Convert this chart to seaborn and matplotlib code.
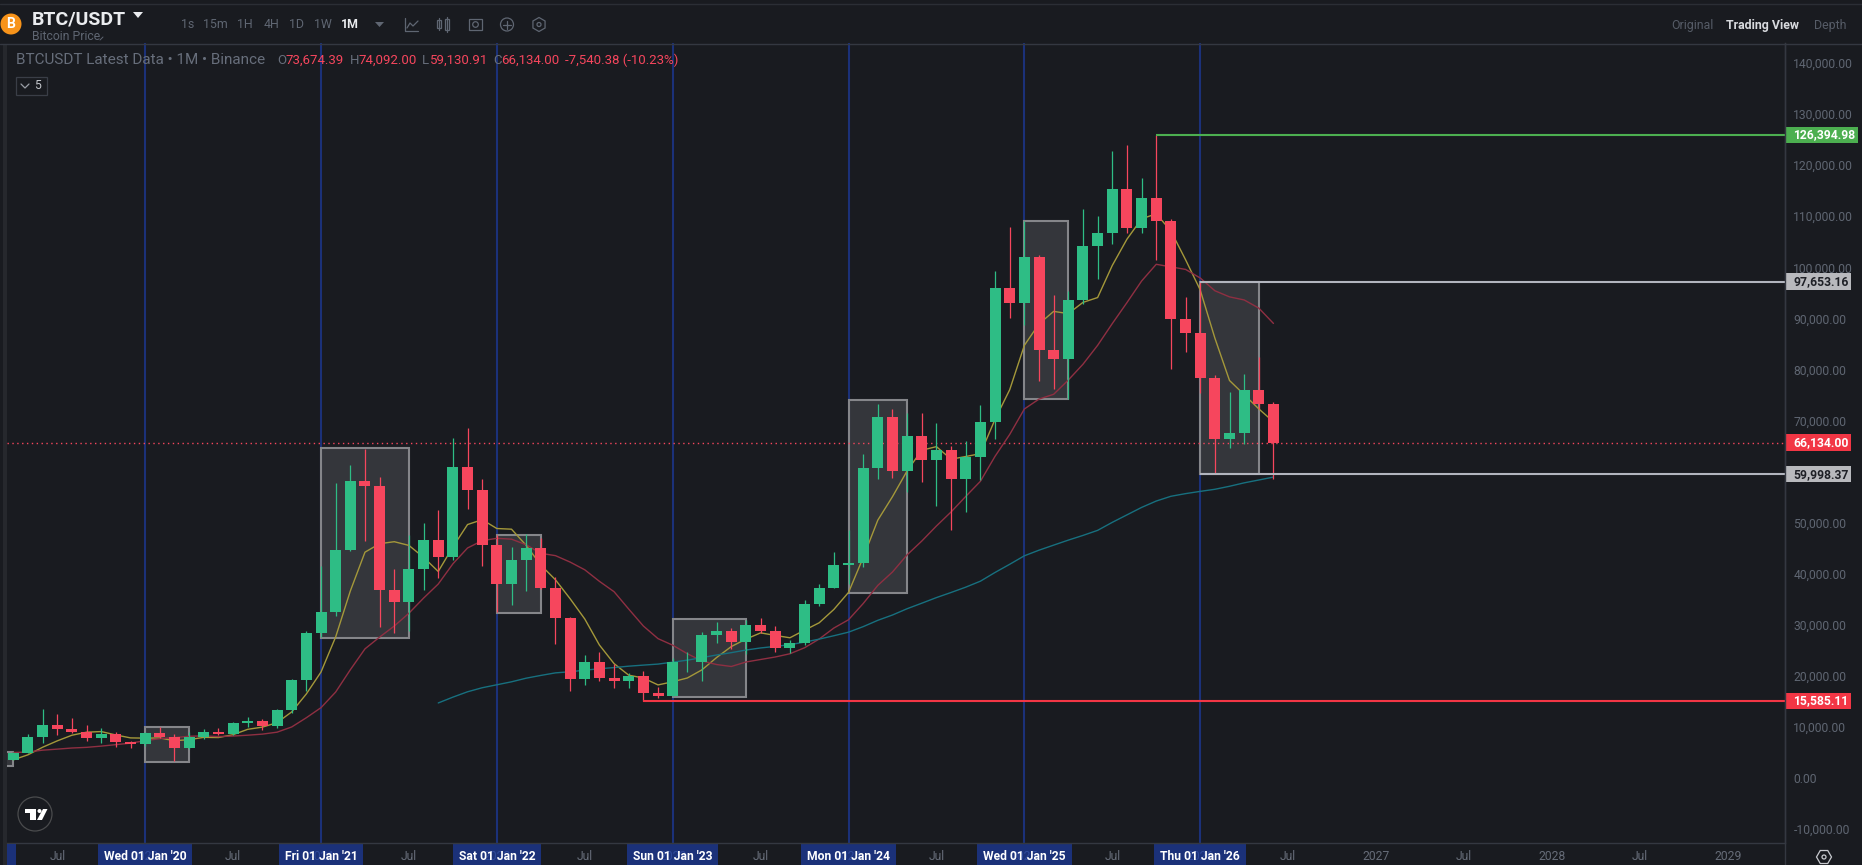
# BTC/USDT monthly chart, candles with three moving averages and the drawn boxes/levels
import matplotlib
matplotlib.use("Agg")
import matplotlib.pyplot as plt
from matplotlib.patches import Rectangle, Circle, RegularPolygon, Polygon
from matplotlib.transforms import IdentityTransform, ScaledTranslation
import pandas as pd
import seaborn as sns

BG = "#191b20"
GRID = "#343841"
TXT = "#5f6672"
UP = "#2ebd85"
DOWN = "#f6465d"
NAVY = "#1b3179"

# months from Apr 2019 (-9) to Jun 2026 (77), month 0 is Jan 2020
first_month = -9
opens = [4100, 5320, 8555, 10855, 10085, 9600, 8293, 9150, 7540,
         7195, 9350, 8523, 6412, 8620, 9448, 9138, 11335, 11649, 10776, 13791, 19700,
         28923, 33092, 45134, 58739, 57697, 37253, 35045, 41461, 47100, 43820, 61299, 56950,
         46216, 38466, 43160, 45510, 37630, 31801, 19942, 23296, 20048, 19422, 20490, 17165,
         16541, 23125, 23142, 28465, 29233, 27210, 30472, 29232, 25940, 26962, 34639, 37723,
         42283, 42580, 61130, 71280, 60672, 67540, 62772, 64628, 58974, 63327, 70292, 96408,
         93576, 102429, 84350, 82550, 94172, 104591, 107173, 115764, 108246, 114049, 109608, 90360,
         87600, 78800, 66870, 68050, 76500, 73674]
closes = [5320, 8555, 10855, 10085, 9600, 8293, 9150, 7540, 7195,
          9350, 8523, 6410, 8620, 9448, 9138, 11335, 11649, 10776, 13791, 19700, 28923,
          33092, 45135, 58740, 57694, 37253, 35045, 41461, 47100, 43824, 61299, 56950, 46216,
          38466, 43160, 45510, 37630, 31801, 19942, 23293, 20050, 19422, 20490, 17164, 16542,
          23125, 23142, 28465, 29233, 27210, 30472, 29232, 25940, 26962, 34639, 37723, 42283,
          42580, 61130, 71280, 60672, 67540, 62772, 64628, 58974, 63327, 70292, 96408, 93576,
          102429, 84350, 82550, 94172, 104591, 107173, 115764, 108246, 114049, 109608, 90360, 87600,
          78800, 66870, 68050, 76500, 73674, 66134]
highs = [5600, 9074, 14000, 13130, 12330, 10900, 10370, 9500, 7750,
         9575, 10500, 9188, 9460, 10067, 10380, 11444, 12468, 12050, 14100, 19863, 29300,
         41950, 58352, 61844, 64854, 59500, 41330, 48168, 50500, 52920, 67000, 69000, 59053,
         47990, 45821, 48189, 47444, 39845, 31957, 24668, 25214, 22799, 21085, 21480, 18387,
         23960, 25250, 29184, 31000, 29820, 31431, 31804, 30244, 27483, 35280, 38450, 44700,
         48969, 64000, 73777, 72797, 71979, 71997, 70079, 65593, 66498, 73620, 99800, 108353,
         109588, 102900, 95000, 95758, 111980, 110530, 123218, 124474, 117900, 126395, 110000, 94670,
         97653, 79400, 76000, 79600, 82900, 74092]
lows = [4050, 5350, 7440, 8900, 9320, 7760, 7300, 6500, 6435,
        6850, 8400, 3782, 6150, 8117, 8833, 8893, 10525, 9825, 10374, 13195, 17572,
        28130, 32296, 44950, 46930, 30000, 28805, 29278, 37332, 39600, 43283, 53256, 41967,
        32917, 34322, 37155, 37578, 26700, 17622, 18781, 19520, 18125, 18190, 15585, 16256,
        16499, 21351, 19549, 26942, 25811, 24800, 28861, 25166, 24900, 26538, 34097, 37629,
        38555, 41884, 59005, 59191, 56552, 58402, 53717, 49000, 52550, 58946, 66835, 90500,
        89256, 78200, 76600, 74700, 93377, 98200, 105100, 107255, 107270, 102000, 80650, 84000,
        75880, 59998, 65170, 65900, 72750, 59131]

# moving averages, same months as the candles
ma_short = [4070, 5050, 6530, 7780, 8880, 9480, 9600, 8930, 8360,
            8310, 8350, 7800, 8020, 8470, 8430, 8990, 10040, 10470, 11340, 13450, 16970,
            21260, 28130, 37120, 44720, 46380, 46770, 46040, 43710, 40940, 45750, 50130, 51080,
            49350, 49220, 46060, 42200, 39310, 35610, 31640, 26540, 22900, 20640, 20080, 18730,
            19350, 20090, 21690, 24100, 26240, 27700, 28920, 28420, 27960, 29450, 30900, 33510,
            36840, 43670, 51000, 55590, 60640, 64680, 65380, 62920, 63450, 64000, 70730, 76520,
            85210, 89410, 91860, 91420, 93620, 94570, 100850, 105990, 109970, 110970, 107600, 101980,
            96070, 86640, 78330, 75560, 72770, 70250]
ma_mid = [5500, 5590, 5960, 6160, 6380, 6510, 6750, 7040, 7330,
          7820, 8210, 8410, 8680, 8760, 8610, 8720, 8890, 9100, 9480, 10500, 12310,
          14280, 17340, 21700, 25790, 28100, 30260, 32770, 35730, 38480, 42440, 45540, 46980,
          47430, 47270, 46170, 44490, 44040, 42780, 41270, 39010, 36980, 33580, 30260, 27790,
          26510, 24840, 23420, 22720, 22340, 23220, 23710, 24200, 24830, 26010, 27720, 29870,
          31490, 34660, 38220, 40840, 44200, 46900, 49850, 52600, 55630, 58600, 63490, 67770,
          72750, 74690, 75630, 78420, 81510, 85210, 89470, 93570, 97800, 101080, 100570, 100080,
          98400, 95900, 94700, 94100, 92500, 89500]
ma_long_first_month = 20
ma_long = [15200, 16340, 17390, 18180, 18760, 19340, 20050, 20590, 21090, 21310, 21620, 21900,
           22130, 22400, 22610, 22810, 23190, 23580, 24080, 24590, 25050, 25560, 25970, 26270,
           26610, 27110, 27700, 28360, 29060, 30140, 31380, 32420, 33650, 34730, 35830, 36830,
           37870, 39040, 40750, 42350, 44010, 45110, 46100, 47080, 48000, 48990, 50560, 52020,
           53480, 54730, 55660, 56180, 56620, 57030, 57620, 58290, 58850, 59420]

# shaded boxes: first month, last month, low, high
box_starts = [-12, 0, 12, 24, 36, 48, 60, 72]
box_ends = [-9, 3, 18, 27, 41, 52, 63, 76]
box_lows = [2860, 3640, 27900, 32800, 16370, 36800, 74700, 59998]
box_highs = [5600, 10490, 65100, 48100, 31640, 74500, 109550, 97653]

year_months = [0, 12, 24, 36, 48, 60, 72]
year_dates = ["Wed 01 Jan '20", "Fri 01 Jan '21", "Sat 01 Jan '22", "Sun 01 Jan '23",
              "Mon 01 Jan '24", "Wed 01 Jan '25", "Thu 01 Jan '26"]
year_names = ["2020", "2021", "2022", "2023", "2024", "2025", "2026"]
plain_months = [-6, 6, 18, 30, 42, 54, 66, 78, 84, 90, 96, 102, 108]
plain_labels = ["Jul", "Jul", "Jul", "Jul", "Jul", "Jul", "Jul", "Jul", "2027", "Jul", "2028", "Jul", "2029"]
price_ticks = [140000, 130000, 120000, 110000, 100000, 90000, 80000, 70000, 60000,
               50000, 40000, 30000, 20000, 10000, 0, -10000]

# level lines: price, first month, colour
level_prices = [126394.98, 97653.16, 59998.37, 15585.11]
level_starts = [69, 72, 72, 34]
level_colors = ["#4caf50", "#b2b5be", "#b2b5be", "#f23645"]
last_price = 66134.00

sns.set_theme(style="dark", rc={"axes.facecolor": BG, "figure.facecolor": BG})
plt.rcParams["font.family"] = ["Roboto", "DejaVu Sans"]

fig = plt.figure(figsize=(18.62, 8.65), dpi=100)
ax = fig.add_axes([7 / 1862, 22 / 865, 1778 / 1862, 800 / 865])
ax.set_xlim(-9.43, 111.91)
ax.set_ylim(-12216, 144401)
ax.set_axisbelow(False)

months = list(range(first_month, first_month + len(closes)))
candles = pd.DataFrame({"month": months, "open": opens, "high": highs, "low": lows, "close": closes,
                        "short": ma_short, "mid": ma_mid})
candles["colour"] = [UP if c >= o else DOWN for o, c in zip(opens, closes)]
long_line = pd.DataFrame({"month": list(range(ma_long_first_month, ma_long_first_month + len(ma_long))),
                          "long": ma_long})

for m in year_months:
    ax.axvline(m, color=NAVY, lw=1.5, zorder=1)

for x0, x1, y0, y1 in zip(box_starts, box_ends, box_lows, box_highs):
    ax.add_patch(Rectangle((x0, y0), x1 - x0, y1 - y0, fc=(1, 1, 1, 0.12), ec="#85868a", lw=1.5, zorder=1.5))

ax.axhline(last_price, color=DOWN, lw=1.0, ls=(0, (1, 2.5)), zorder=1.6)

sns.lineplot(data=candles, x="month", y="short", ax=ax, color="#a4983a", lw=1.0, zorder=2, legend=False)
sns.lineplot(data=candles, x="month", y="mid", ax=ax, color="#8f2f42", lw=1.0, zorder=2, legend=False)
sns.lineplot(data=long_line, x="month", y="long", ax=ax, color="#17707f", lw=1.0, zorder=2, legend=False)

ax.vlines(candles["month"], candles["low"], candles["high"], colors=candles["colour"], lw=0.9, zorder=3)
ax.bar(candles["month"], (candles["close"] - candles["open"]).abs(), bottom=candles[["open", "close"]].min(axis=1),
       width=0.75, color=candles["colour"], edgecolor="none", linewidth=0, zorder=3.1)

for price, start, col in zip(level_prices, level_starts, level_colors):
    ax.hlines(price, start, 111.91, colors=col, lw=1.5, zorder=3.5)

ax.set_xlabel("")
ax.set_ylabel("")
ax.yaxis.tick_right()
ax.set_yticks(price_ticks)
ax.set_yticklabels([f"{p:,.2f}" for p in price_ticks], color=TXT, fontsize=8.7)
ax.tick_params(axis="y", length=0, pad=6)
# the price labels sit a little above their levels
for lab in ax.get_yticklabels():
    lab.set_transform(lab.get_transform() + ScaledTranslation(0, 2.5 / 100, fig.dpi_scale_trans))
ax.set_xticks(plain_months + year_months)
ax.set_xticklabels(plain_labels + year_dates, fontsize=8.7, color="#666c78")
ax.tick_params(axis="x", length=0, pad=5)
for lab in ax.get_xticklabels()[len(plain_months):]:
    lab.set_color("white")
    lab.set_fontweight("bold")
for side in ["top", "left"]:
    ax.spines[side].set_visible(False)
for side in ["bottom", "right"]:
    ax.spines[side].set_color(GRID)
    ax.spines[side].set_linewidth(1.0)
ax.grid(False)

# date boxes under the time axis, sized from the labels themselves
fig.canvas.draw()
for lab, name, m in zip(ax.get_xticklabels()[len(plain_months):], year_names, year_months):
    bb = lab.get_window_extent()
    ax.add_patch(Rectangle((bb.x0 - 6, 0), bb.width + 12, 22, transform=IdentityTransform(), fc=NAVY, ec="none",
                           clip_on=False, zorder=0.9))
    ax.text((bb.x0 + bb.x1) / 2, bb.y0 + bb.height / 2, name, transform=IdentityTransform(), color="#2f4a9c",
            fontsize=8.7, ha="center", va="center", clip_on=False, zorder=1)

# overlay in pixel coordinates for the chart's chrome
ov = fig.add_axes([0, 0, 1, 1], zorder=5)
ov.set_xlim(0, 1862)
ov.set_ylim(865, 0)
ov.set_axis_off()
ov.patch.set_alpha(0)


def py(price):
    return 865 - ax.transData.transform((0, price))[1]


def label(x, y, s, color=TXT, size=8.7, weight="normal", ha="left"):
    ov.text(x, y, s, color=color, fontsize=size, fontweight=weight, ha=ha, va="center")


# price tags on the right axis
tags = [(126394.98, "126,394.98", "#4caf50", "white", 72),
        (97653.16, "97,653.16", "#b8b9bd", "#1e2026", 65),
        (last_price, "66,134.00", "#f23645", "white", 65),
        (59998.37, "59,998.37", "#b8b9bd", "#1e2026", 65),
        (15585.11, "15,585.11", "#f23645", "white", 65)]
for price, text, bg, fg, w in tags:
    y = py(price)
    ov.add_patch(Rectangle((1786, y - 8.3), w, 16.6, fc=bg, ec="none"))
    label(1793, y, text, color=fg, weight="bold")

# frame lines and the strip on the left
ov.plot([0, 1862], [3.5, 3.5], color="#2b2e35", lw=1.0)
ov.plot([0, 1862], [43.5, 43.5], color=GRID, lw=1.0)
ov.plot([1785, 1785], [43, 865], color=GRID, lw=1.0)
ov.add_patch(Rectangle((3, 44), 4, 821, fc="#26282d", ec="none"))
ov.add_patch(Rectangle((7, 843.5), 9, 22, fc=NAVY, ec="none"))

# header
ov.add_patch(Circle((11, 24), 10.5, fc="#f7931a", ec="none"))
label(11, 24, "B", color="white", size=10, weight="bold", ha="center")
label(32, 19, "BTC/USDT", color="#eaecef", size=14, weight="bold")
ov.add_patch(Polygon([[133, 12], [143, 12], [138, 18]], fc="#eaecef", ec="none"))
label(32, 37, "Bitcoin Price", color=TXT, size=8.8)
ov.plot([100, 103], [40, 37], color=TXT, lw=0.7)

tf_names = ["1s", "15m", "1H", "4H", "1D", "1W"]
tf_x = [188, 215, 245, 272, 296, 323]
for name, x in zip(tf_names, tf_x):
    label(x, 25, name, color=TXT, size=8.9, ha="center")
label(350, 25, "1M", color="#eaecef", size=8.9, weight="bold", ha="center")
ov.add_patch(Polygon([[375, 22], [384, 22], [379.5, 27]], fc=TXT, ec="none"))

# toolbar icons
ov.plot([405, 405, 418], [18, 31, 31], color=TXT, lw=0.9)
ov.plot([407, 410, 413, 418], [28, 23, 26, 21], color=TXT, lw=0.9)
for x, y0, y1 in [(439, 20, 28), (447, 19, 30)]:
    ov.add_patch(Rectangle((x - 2, y0), 4, y1 - y0, fc="none", ec=TXT, lw=0.9))
    ov.plot([x, x], [y0 - 2, y1 + 2], color=TXT, lw=0.9)
ov.add_patch(Rectangle((469, 19), 13, 11, fc="none", ec=TXT, lw=0.9))
ov.add_patch(Circle((475.5, 24.5), 2.8, fc="none", ec=TXT, lw=0.9))
ov.add_patch(Circle((507, 24.5), 6.5, fc="none", ec=TXT, lw=0.9))
ov.plot([503, 511], [24.5, 24.5], color=TXT, lw=0.9)
ov.plot([507, 507], [20.5, 28.5], color=TXT, lw=0.9)
ov.add_patch(RegularPolygon((539, 24.5), 6, radius=7, fc="none", ec=TXT, lw=0.9))
ov.add_patch(Circle((539, 24.5), 2, fc="none", ec=TXT, lw=0.9))

label(1692, 25, "Original", color="#565c67", size=8.9, ha="center")
label(1763, 25, "Trading View", color="#d8dade", size=8.9, weight="bold", ha="center")
label(1830, 25, "Depth", color="#565c67", size=8.9, ha="center")

# legend line
label(16, 60, "BTCUSDT Latest Data • 1M • Binance", color="#676e7b", size=11)
ohlc_keys = ["O", "H", "L", "C"]
ohlc_vals = ["73,674.39", "74,092.00", "59,130.91", "66,134.00"]
ohlc_x = [277, 350, 422, 493]
for key, val, x in zip(ohlc_keys, ohlc_vals, ohlc_x):
    label(x, 60, key, color="#676e7b", size=9.5)
    label(x + 8, 60, val, color=DOWN, size=9.5)
label(565, 60, "-7,540.38 (-10.23%)", color=DOWN, size=9.5)

ov.add_patch(Rectangle((15.5, 76.5), 31, 18, fc=BG, ec="#3a3e47", lw=0.9))
ov.plot([21, 25, 29], [84, 88, 84], color="#9a9ea6", lw=0.9)
label(34, 85.5, "5", color="#c4c7cc", size=8.7)

# TradingView mark
ov.add_patch(Circle((35, 814), 17, fc=BG, ec="#4a4b4d", lw=0.9))
ov.add_patch(Rectangle((25, 809), 11, 4, fc="white", ec="none"))
ov.add_patch(Rectangle((30, 809), 6, 11, fc="white", ec="none"))
ov.add_patch(Circle((39.5, 811), 2, fc="white", ec="none"))
ov.add_patch(Polygon([[43, 809], [47.5, 809], [42, 820], [37, 820]], fc="white", ec="none"))

# settings hexagon, bottom right
ov.add_patch(RegularPolygon((1824, 857), 6, radius=7.5, orientation=0.5236, fc="none", ec="#c8cacf", lw=0.9))
ov.add_patch(Circle((1824, 857), 2, fc="none", ec="#c8cacf", lw=0.9))

fig.savefig("out.png", dpi=100, facecolor=BG)
